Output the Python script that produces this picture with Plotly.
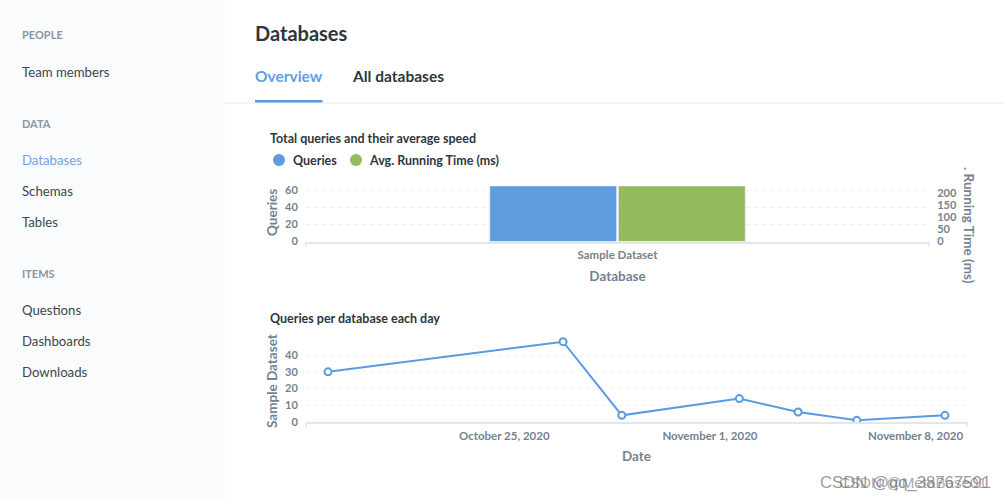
import plotly.graph_objects as go

W = 1004
H = 500

databases = ['Sample Dataset']
queries = [65]
avg_running_time = [229]

dates = ['2020-10-19', '2020-10-27', '2020-10-29', '2020-11-02', '2020-11-04', '2020-11-06', '2020-11-09']
daily_queries = [30, 48, 4, 14, 6, 1, 4]
date_ticks = ['2020-10-25', '2020-11-01', '2020-11-08']
date_labels = ['October 25, 2020', 'November 1, 2020', 'November 8, 2020']

BLUE = '#5f9ddf'
GREEN = '#94bb5e'
LINE_BLUE = '#5a9ae2'
AXIS_GREY = '#74838f'
DARK = '#2f363c'
GRID = '#f0f1f2'
AXIS_LINE = '#e2e7ea'
FONT = 'Lato'


def px(x):
	return x / W


def py(y):
	return 1 - y / H


def label(x, y, text, size, color, bold=False, xanchor='left', angle=0, family=FONT):
	# annotations sit about 1px right of the given x
	return dict(x=px(x - 1), y=py(y), xref='paper', yref='paper', text=text, showarrow=False,
		xanchor=xanchor, yanchor='middle', textangle=angle, borderpad=0,
		font=dict(family=family, size=size, color=color, weight=700 if bold else 400))


def rect(x0, y0, x1, y1, color):
	return dict(type='rect', xref='paper', yref='paper', x0=px(x0), x1=px(x1), y0=py(y0), y1=py(y1),
		fillcolor=color, line_width=0, layer='below')


def dot(x, y, color):
	return dict(type='circle', xref='paper', yref='paper', x0=px(x - 6), x1=px(x + 6), y0=py(y - 6), y1=py(y + 6),
		fillcolor=color, line_width=0)


def end_tick(x, y):
	return dict(type='line', xref='paper', yref='paper', x0=px(x), x1=px(x), y0=py(y), y1=py(y + 5),
		line=dict(color=AXIS_LINE, width=1.5))


fig = go.Figure()

fig.add_trace(go.Bar(name='Queries', x=databases, y=queries, marker_color=BLUE, offsetgroup=1,
	xaxis='x', yaxis='y'))
fig.add_trace(go.Bar(name='Avg. Running Time (ms)', x=databases, y=avg_running_time, marker_color=GREEN, offsetgroup=2,
	xaxis='x', yaxis='y2'))
fig.add_trace(go.Scatter(name='Sample Dataset', x=dates, y=daily_queries, mode='lines+markers',
	line=dict(color=LINE_BLUE, width=2),
	marker=dict(size=7, color='white', line=dict(color=LINE_BLUE, width=2)),
	xaxis='x3', yaxis='y3'))

tick_font = dict(family=FONT, size=11, color=AXIS_GREY, weight=700)
title_font = dict(family=FONT, size=13.5, color=AXIS_GREY, weight=700)
y_common = dict(showline=False, zeroline=False, tickfont=tick_font, ticks='outside', ticklen=5,
	tickcolor='rgba(0,0,0,0)', griddash='4px,4px', gridcolor=GRID, gridwidth=1)
x_common = dict(showline=True, linecolor=AXIS_LINE, linewidth=2, showgrid=False, zeroline=False,
	tickfont=dict(family=FONT, size=11.5, color=AXIS_GREY, weight=700), ticks='outside', ticklen=2,
	tickcolor='rgba(0,0,0,0)', title_font=title_font, title_standoff=11)

fig.update_layout(
	width=W, height=H,
	margin=dict(l=0, r=0, t=0, b=0, autoexpand=False),
	paper_bgcolor='white',
	plot_bgcolor='white',
	showlegend=False,
	barmode='group',
	bargap=0.587,
	bargroupgap=0.015,
	xaxis=dict(domain=[px(306), px(929)], anchor='y', title_text='Database', **x_common),
	yaxis=dict(domain=[py(241.5), py(186)], range=[0, 65], tickvals=[0, 20, 40, 60], **y_common),
	yaxis2=dict(domain=[py(241.5), py(186)], range=[0, 229], tickvals=[0, 50, 100, 150, 200], overlaying='y',
		side='right', anchor='x', showline=False, zeroline=False, showgrid=False, tickfont=tick_font,
		ticks='outside', ticklen=5, tickcolor='rgba(0,0,0,0)'),
	xaxis3=dict(domain=[px(306), px(967)], anchor='y3', type='date',
		range=['2020-10-18 06:00', '2020-11-09 18:00'], tickvals=date_ticks, ticktext=date_labels,
		title_text='Date', **x_common),
	yaxis3=dict(domain=[py(422), py(335)], range=[0, 52], tickvals=[0, 10, 20, 30, 40], anchor='x3', **y_common),
)

fig.update_layout(
	shapes=[
		rect(0, 0, 225, H, '#f9fbfd'),
		rect(225, 102, W, 104, '#f2f4f5'),
		rect(255, 100, 322.5, 102.5, LINE_BLUE),
		dot(279, 160, BLUE),
		dot(356, 160, GREEN),
		end_tick(306, 241.5),
		end_tick(929, 241.5),
		end_tick(306, 422),
		end_tick(967, 422),
	],
	annotations=[
		label(22, 34.5, 'PEOPLE', 11, '#8a97a3', True),
		label(22, 71.5, 'Team members', 13.2, '#3f464c'),
		label(22, 123, 'DATA', 11, '#8a97a3', True),
		label(22, 160, 'Databases', 13.2, '#6ea5e6'),
		label(22, 191, 'Schemas', 13.2, '#3f464c'),
		label(22, 222, 'Tables', 13.2, '#3f464c'),
		label(22, 273, 'ITEMS', 11, '#8a97a3', True),
		label(22, 310, 'Questions', 13.2, '#3f464c'),
		label(22, 341, 'Dashboards', 13.2, '#3f464c'),
		label(22, 372, 'Downloads', 13.2, '#3f464c'),
		label(255, 33, 'Databases', 20, DARK, True),
		label(255, 76, 'Overview', 15.5, '#5f9ee6', True),
		label(352, 76, 'All databases', 15.5, DARK, True),
		label(270, 138, 'Total queries and their average speed', 12.5, DARK, True),
		label(293, 160, 'Queries', 12.5, DARK, True),
		label(369, 160, 'Avg. Running Time (ms)', 12.5, DARK, True),
		label(270, 318, 'Queries per database each day', 12.5, DARK, True),
		label(273, 213, 'Queries', 13.5, AXIS_GREY, True, xanchor='center', angle=-90),
		label(970, 225, '. Running Time (ms)', 13.5, AXIS_GREY, True, xanchor='center', angle=90),
		label(273, 381, 'Sample Dataset', 13.5, AXIS_GREY, True, xanchor='center', angle=-90),
		label(820, 482, 'CSDN @qq_38767591', 16.7, 'rgba(110,110,110,0.7)', family='Liberation Sans'),
		label(839, 482, 'CSDN @MetaBase01', 15.2, 'rgba(110,110,110,0.6)', family='Liberation Sans'),
	],
)

# page has a default body margin, drop it so the figure fills the window
fig.write_html('out.html', config=dict(displayModeBar=False),
	post_script="document.body.style.margin='0';document.body.style.overflow='hidden';")
